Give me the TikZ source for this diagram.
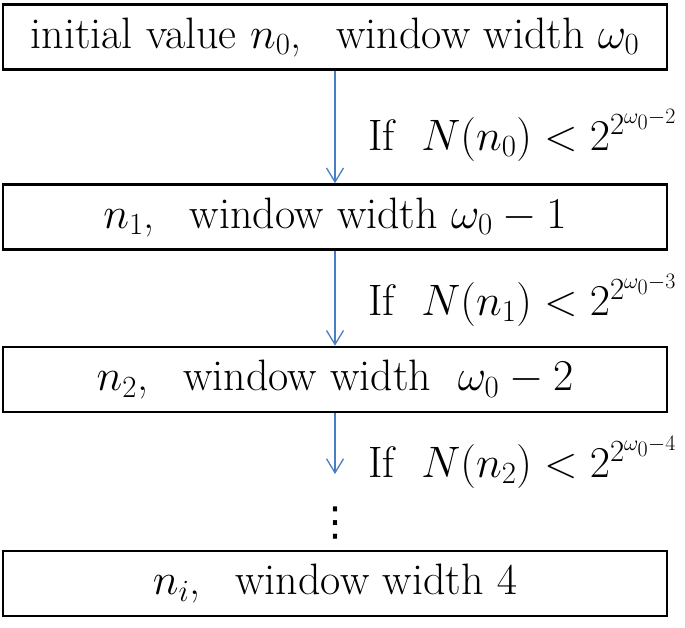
\RequirePackage{fix-cm}
\documentclass[tikz,border=0pt]{standalone}
\usepackage{fontspec}
\newfontfamily\dejavu{DejaVu Sans}
\usetikzlibrary{arrows.meta}
\definecolor{arrowblue}{HTML}{4A7EC4}
\tikzset{
  stepbox/.style={draw=black, line width=2.6pt, minimum width=664pt, minimum height=65pt, inner sep=0pt, font=\fontsize{44}{50}\selectfont},
  flow/.style={draw=arrowblue, line width=1.3pt, -{Straight Barb[length=14pt,width=17pt]}},
  cond/.style={anchor=west, inner sep=0pt, font=\fontsize{44}{50}\selectfont}
}
\newcommand{\fwc}{,\hspace{0.8em}}
\begin{document}
\begin{tikzpicture}[x=1pt,y=-1pt]
\useasboundingbox (0,0) rectangle (685,627);
\node[stepbox] (b1) at (335,37) {initial value $n_0$\fwc window width $\omega_0$};
\node[stepbox] (b2) at (335,217) {$n_1$\fwc window width $\omega_0-1$};
\node[stepbox] (b3) at (335,379.5) {$n_2$\fwc window width\ \ $\omega_0-2$};
\node[stepbox] (b4) at (335,583.5) {$n_i$\fwc window width $4$};
\coordinate (e3) at (335,474);
\node[font=\fontsize{40}{46}\dejavu, inner sep=0pt] (dots) at (335,523) {⋮};
\draw[flow] (b1.south) -- (b2.north);
\draw[flow] (b2.south) -- (b3.north);
\draw[flow] (b3.south) -- (e3);
\node[cond] (c1) at (368,135) {If\ \ $N(n_0)<2^{2^{\omega_0-2}}$};
\node[cond] (c2) at (368,300) {If\ \ $N(n_1)<2^{2^{\omega_0-3}}$};
\node[cond] (c3) at (368,462) {If\ \ $N(n_2)<2^{2^{\omega_0-4}}$};
\end{tikzpicture}
\end{document}
